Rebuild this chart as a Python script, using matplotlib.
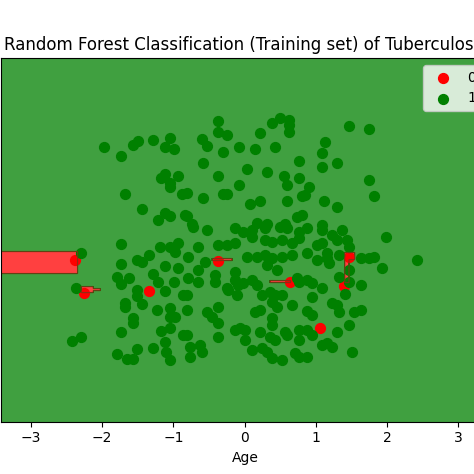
import numpy as np
import matplotlib
matplotlib.use("Agg")
import matplotlib.pyplot as plt
from matplotlib.colors import ListedColormap

# ---- data (standardised features) ----
green_x = [-1.97, -1.74, -1.57, -1.50, -1.29, -1.05, -1.12, -0.99, -1.12, -1.18, -1.05, -1.05, -0.94, -1.68, -0.88,
           -1.44, -1.12, -1.05, -1.22, -0.84,
           -0.38, -0.38, -0.25, 0.21, 0.38, 0.49, 0.62, 0.62, 0.62, -0.60, -0.53, -0.31, -0.08, 0.15, 0.43,
           -0.59, 0.77, -0.38, 0.03, 0.32, 0.55, 0.77, 0.60, -0.08, -0.81, -0.59, -0.31, -0.25, 0.21, 0.08,
           0.60, 0.80, -0.81, 0.74, 0.81, -0.74, 0.18, 0.31, 0.56,
           1.47, 1.75, 1.13, 1.08, 1.29, 1.08, 1.75, 0.90, 0.85, 1.81, 1.12, 1.29, 1.08,
           -2.30, -1.74, -1.19, -1.05, -0.94, -0.98, -1.34, -1.51, -1.44, -1.74, -1.12, -0.94, -1.79, -1.74,
           -1.62, -1.29, -1.22, -0.99, -2.37, -1.51, -1.51, -1.12, -0.87, -1.68, -1.68, -1.44, -1.23, -1.05,
           -1.57, -1.57, -1.05, -0.98, -1.18, -1.05, -1.74, -0.87, -2.30, -2.42, -1.12, -1.51, -1.29, -1.11,
           -1.79, -1.65, -1.57, -1.05,
           -0.73, -0.53, -0.14, -0.03, 0.10, 0.28, 0.49, 0.60, 0.77, -0.66, -0.38, -0.25, -0.14, 0.10, 0.28,
           0.39, 0.52, 0.66, 0.77, -0.80, -0.56, 0.03, 0.17, 0.28, 0.38, 0.52, 0.66, 0.32, 0.45, -0.66,
           -0.14, -0.80, -0.42, -0.42, -0.66, -0.14, -0.03, 0.10, 0.17, 0.73, 0.77, -0.24, -0.10, -0.11,
           -0.25, 0.24, 0.35, 0.42, 0.53, -0.81, 0.66, 0.39, 0.46, -0.38, -0.53, -0.46, -0.38, -0.81, 0.14,
           0.21, 0.39, 0.38, 0.21, -0.07, -0.14, 0.00, 0.00, 0.35, 0.42, 0.56, 0.60, 0.77, 0.77, -0.81,
           -0.38, -0.77, -0.63, -0.60, -0.77, 0.10, 0.24, 0.31, 0.39, 0.52, 0.70, 0.77,
           0.88, 1.08, 1.36, 1.22, 1.30, 1.43, 1.99, 1.02, 1.08, 1.47, 0.88, 1.15, 1.16, 1.01, 1.33, 1.64,
           1.75, 1.82, 2.42, 1.19, 1.93, 1.47, 1.33, 1.47, 1.64, 0.87, 0.94, 1.08, 1.41, 0.95, 1.23, 1.30,
           1.33, 1.54, 1.64, 0.88, 0.94, 1.47, 1.29, 0.87, 0.94, 1.08, 1.16, 1.23, 1.51, 0.87]
green_y = [1.86, 1.68, 1.90, 1.98, 2.00, 2.04, 1.86, 1.82, 1.32, 1.24, 1.14, 1.06, 1.28, 0.92, 0.92,
           0.62, 0.54, 0.48, 0.40, 0.50,
           2.38, 2.16, 2.10, 2.14, 2.34, 2.44, 2.40, 2.30, 2.16, 2.02, 1.88, 1.76, 1.86, 1.82, 1.86,
           1.54, 1.58, 1.28, 1.42, 1.36, 1.28, 1.24, 1.10, 1.10, 0.94, 0.84, 0.92, 0.92, 0.78, 0.72,
           0.78, 0.88, 0.48, 0.46, 0.50, 0.32, 0.34, 0.32, 0.32,
           2.28, 2.22, 1.96, 1.74, 1.54, 1.46, 1.20, 1.06, 0.90, 0.88, 0.78, 0.66, 0.30,
           -0.26, -0.08, -0.14, -0.14, -0.06, -0.24, -0.30, -0.40, -0.44, -0.48, -0.52, -0.56, -0.74, -0.88,
           -0.76, -0.68, -0.84, -0.84, -0.96, -1.00, -1.12, -1.02, -1.10, -1.26, -1.34, -1.28, -1.40, -1.36,
           -1.56, -1.66, -1.54, -1.54, -1.82, -1.76, -1.84, -1.90, -1.94, -2.02, -2.04, -2.18, -2.16, -2.24,
           -2.28, -2.38, -2.38, -2.40,
           0.26, 0.20, 0.24, 0.16, 0.20, 0.24, 0.26, 0.24, 0.16, -0.14, -0.10, -0.10, -0.06, 0.06, 0.00,
           -0.04, 0.00, -0.06, 0.04, -0.34, -0.44, -0.34, -0.34, -0.30, -0.36, -0.34, -0.30, -0.50, -0.60, -0.60,
           -0.64, -0.76, -0.70, -0.84, -0.84, -0.80, -0.86, -0.80, -0.90, -0.76, -0.84, -1.00, -0.90, -1.10,
           -0.96, -1.10, -1.04, -1.10, -1.10, -1.10, -1.30, -1.24, -1.34, -1.34, -1.44, -1.54, -1.66, -1.40, -1.44,
           -1.40, -1.56, -1.70, -1.84, -1.76, -1.80, -1.80, -2.00, -1.94, -2.00, -1.84, -1.90, -1.80, -2.00, -1.90,
           -1.94, -2.14, -2.10, -2.24, -2.34, -2.20, -2.16, -2.24, -2.36, -2.40, -2.26, -2.34,
           0.24, 0.20, 0.20, 0.10, 0.00, 0.00, 0.06, -0.10, -0.06, -0.14, -0.26, -0.26, -0.36, -0.40, -0.30, -0.36,
           -0.36, -0.34, -0.40, -0.46, -0.56, -0.60, -0.74, -0.84, -0.90, -0.80, -0.86, -0.96, -1.08, -1.14, -1.26, -1.30,
           -1.44, -1.44, -1.40, -1.42, -1.50, -1.70, -1.84, -1.80, -1.90, -2.10, -2.06, -2.14, -2.24, -2.34]

red_x = [-2.38, -2.25, -1.34, -0.38, 0.64, 1.47, 1.40, 1.06]
red_y = [-0.40, -1.06, -1.02, -0.42, -0.84, -0.34, -0.92, -1.76]

# regions the classifier labels as class 0: (x0, x1, y0, y1)
red_boxes = [(-3.50, -2.35, -0.68, -0.24),
             (-2.30, -2.13, -1.06, -0.94),
             (-2.13, -2.03, -1.02, -0.98),
             (-0.46, -0.18, -0.42, -0.38),
             (0.35, 0.64, -0.86, -0.82),
             (1.40, 1.46, -0.86, -0.40),
             (1.40, 1.54, -0.40, -0.26)]

class_labels = ["0", "1"]
colors = ["red", "green"]
x_lim = (-3.42, 3.43)
y_lim = (-3.63, 3.63)

# ---- decision surface ----
X1, X2 = np.meshgrid(np.arange(x_lim[0] - 0.01, x_lim[1] + 0.01, 0.01),
                     np.arange(y_lim[0] - 0.01, y_lim[1] + 0.01, 0.01))
Z = np.ones_like(X1)
for (x0, x1, y0, y1) in red_boxes:
    Z[(X1 >= x0) & (X1 <= x1) & (X2 >= y0) & (X2 <= y1)] = 0

fig = plt.figure(figsize=(4.74, 4.74), dpi=100)
ax = fig.add_axes([1 / 474, 52.5 / 474, 488 / 474, 363.5 / 474])
ax.contourf(X1, X2, Z, alpha=0.75, cmap=ListedColormap(colors))
ax.contour(X1, X2, Z, levels=[0.5], colors=["#7a3418"], linewidths=0.9, alpha=0.8)
ax.set_xlim(*x_lim)
ax.set_ylim(*y_lim)

ax.scatter(red_x, red_y, c=colors[0], label=class_labels[0], s=50)
ax.scatter(green_x, green_y, c=colors[1], label=class_labels[1], s=50)

ax.set_title("Random Forest Classification (Training set) of Tuberculosis")
ax.set_xlabel("Age")
ax.set_yticks([])
ax.legend(loc="upper right")

fig.savefig("out.png", dpi=100)
